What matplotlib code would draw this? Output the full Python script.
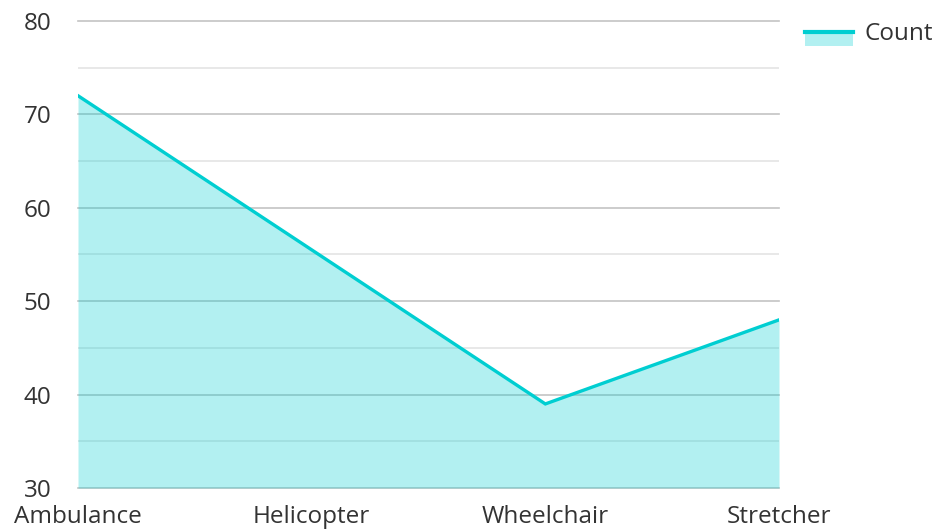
import matplotlib
matplotlib.use("Agg")
import matplotlib.pyplot as plt
from matplotlib.lines import Line2D
from matplotlib.patches import Rectangle

categories = ["Ambulance", "Helicopter", "Wheelchair", "Stretcher"]
counts = [72, 55.5, 39, 48]
series_name = "Count"
y_ticks = [30, 40, 50, 60, 70, 80]
y_minor = [35, 45, 55, 65, 75]

plt.rcParams['font.family'] = ['Open Sans', 'DejaVu Sans']

fig = plt.figure(figsize=(9.36, 5.31), dpi=100)
ax = fig.add_axes([78/936, 1-488/531, (779-78)/936, (488-21)/531])

line_color = "#00CED1"
fill_color = "#00CED1"

x = list(range(len(categories)))
ax.set_xlim(0, len(categories)-1)
ax.set_ylim(30, 80)

for v in y_ticks:
    ax.axhline(v, color="#c4c4c4", lw=1.2, zorder=1, clip_on=False)
for v in y_minor:
    ax.axhline(v, color="#e4e4e4", lw=1.2, zorder=1)

ax.fill_between(x, counts, 30, color=fill_color, alpha=0.3, lw=0, zorder=2)
ax.plot(x, counts, color=line_color, lw=2.4, zorder=3, solid_joinstyle='miter')

ax.set_xticks(x)
ax.set_xticklabels(categories, fontsize=17.5, color="#333333")
ax.set_yticks(y_ticks)
ax.set_yticklabels([str(v) for v in y_ticks], fontsize=17.5, color="#333333")
ax.tick_params(axis='x', length=0, pad=12)
ax.tick_params(axis='y', length=0, pad=19)
for s in ax.spines.values():
    s.set_visible(False)

# legend
W, H = 936, 531
fig.patches.append(Rectangle((805/W, 1-46/H), 48/W, 14/H, transform=fig.transFigure,
                             facecolor=fill_color, alpha=0.3, lw=0))
fig.lines.append(Line2D([805/W, 853/W], [1-32/H, 1-32/H], transform=fig.transFigure,
                        color=line_color, lw=3))
fig.text(864/W, 1-34/H, series_name, fontsize=17.5, color="#333333", va='center', ha='left')

fig.savefig("out.png", dpi=100)
